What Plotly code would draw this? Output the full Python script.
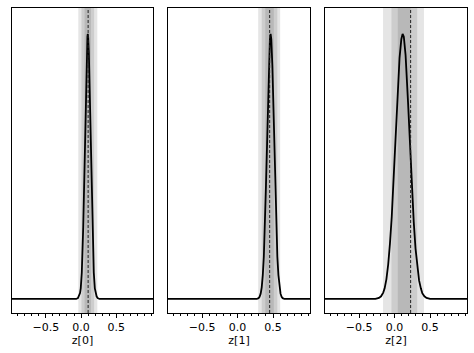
import plotly.graph_objects as go

# ---- data ----
titles = ["z[0]", "z[1]", "z[2]"]

x1 = [-0.98, -0.07, -0.045, -0.03, -0.015, -0.005, 0.01, 0.03, 0.05, 0.065, 0.08, 0.09, 0.095, 0.10, 0.11, 0.125, 0.14, 0.16, 0.18, 0.195, 0.205, 0.22, 0.235, 0.26, 1.02]
y1 = [0.0, 0.0, 0.003, 0.01, 0.022, 0.04, 0.10, 0.27, 0.53, 0.75, 0.93, 0.99, 1.0, 0.99, 0.93, 0.75, 0.53, 0.27, 0.10, 0.04, 0.022, 0.01, 0.003, 0.0, 0.0]

x2 = [-0.98, 0.27, 0.295, 0.31, 0.325, 0.34, 0.355, 0.37, 0.40, 0.42, 0.44, 0.455, 0.465, 0.475, 0.49, 0.51, 0.53, 0.56, 0.575, 0.59, 0.605, 0.62, 0.635, 0.66, 1.02]
y2 = [0.0, 0.0, 0.003, 0.008, 0.02, 0.044, 0.09, 0.16, 0.43, 0.67, 0.88, 0.98, 1.0, 0.98, 0.88, 0.67, 0.43, 0.16, 0.09, 0.044, 0.02, 0.008, 0.003, 0.0, 0.0]

x3 = [-0.98, -0.27, -0.22, -0.19, -0.16, -0.14, -0.115, -0.09, -0.065, -0.04, 0.0, 0.04, 0.07, 0.095, 0.113, 0.13, 0.155, 0.19, 0.23, 0.27, 0.295, 0.32, 0.345, 0.37, 0.39, 0.42, 0.45, 0.50, 1.02]
y3 = [0.0, 0.0, 0.004, 0.01, 0.024, 0.04, 0.075, 0.13, 0.21, 0.31, 0.53, 0.77, 0.91, 0.98, 1.0, 0.99, 0.92, 0.74, 0.50, 0.29, 0.19, 0.12, 0.07, 0.04, 0.022, 0.01, 0.004, 0.0, 0.0]

# credible intervals (99.7%, 95%, 68%) per panel
intervals = [
    [(-0.04, 0.23), (0.005, 0.185), (0.05, 0.14)],
    [(0.29, 0.60), (0.34, 0.56), (0.39, 0.51)],
    [(-0.163, 0.414), (-0.044, 0.319), (0.045, 0.226)],
]
truth = [0.10, 0.452, 0.226]

xs = [x1, x2, x3]
ys = [y1, y2, y3]

# ---- layout geometry ----
W, H = 474, 353
x_domains = [(12 / W, 153 / W), (168 / W, 310 / W), (325 / W, 467 / W)]
y_domain = (1 - 313 / H, 1 - 8 / H)
xrange = [-0.98, 1.02]
yrange = [-0.053, 1.098]

fig = go.Figure()
font = dict(family="DejaVu Sans", size=11, color="black")

for i in range(3):
    xa = "x" if i == 0 else f"x{i+1}"
    ya = "y" if i == 0 else f"y{i+1}"
    fig.add_trace(go.Scatter(
        x=xs[i], y=ys[i], mode="lines",
        line=dict(color="black", width=1.8, shape="linear"),
        xaxis=xa, yaxis=ya, showlegend=False, hoverinfo="skip",
    ))
    for (a, b) in intervals[i]:
        fig.add_shape(type="rect", xref=xa, yref=f"{ya} domain",
                      x0=a, x1=b, y0=0, y1=1,
                      fillcolor="rgba(0,0,0,0.1)", line=dict(width=0), layer="below")
    fig.add_shape(type="line", xref=xa, yref=f"{ya} domain",
                  x0=truth[i], x1=truth[i], y0=0, y1=1,
                  line=dict(color="#222222", width=1, dash="3px,2px"))

    axkey = "xaxis" if i == 0 else f"xaxis{i+1}"
    aykey = "yaxis" if i == 0 else f"yaxis{i+1}"
    fig.update_layout(**{
        axkey: dict(
            domain=list(x_domains[i]), anchor=ya, range=xrange,
            showgrid=False, zeroline=False,
            showline=True, mirror=True, linecolor="black", linewidth=1,
            ticks="outside", ticklen=3.5, tickwidth=1, tickcolor="black",
            tickmode="array", tickvals=[-0.5, 0.0, 0.5],
            ticktext=["\u22120.5", "0.0", "0.5"],
            minor=dict(dtick=0.1, tick0=0, ticks="outside", ticklen=2, tickcolor="black", tickwidth=0.8),
            tickfont=font,
            title=dict(text=titles[i], font=font, standoff=3),
        ),
        aykey: dict(
            domain=list(y_domain), anchor=xa, range=yrange,
            showgrid=False, zeroline=False, showticklabels=False, ticks="",
            showline=True, mirror=True, linecolor="black", linewidth=1,
        ),
    })

fig.update_layout(
    width=W, height=H,
    margin=dict(l=0, r=0, t=0, b=0),
    paper_bgcolor="white", plot_bgcolor="white",
    font=font,
)

fig.write_html("out.html")
